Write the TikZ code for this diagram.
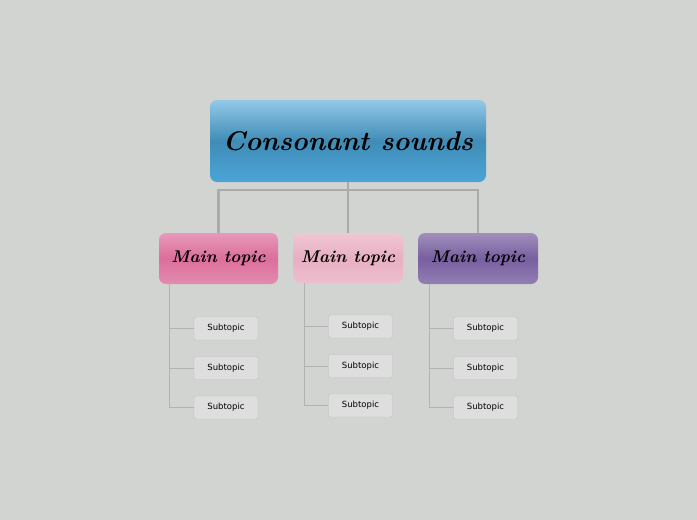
\documentclass[tikz,border=0pt]{standalone}
\usepackage{fontspec}
\setsansfont{DejaVu Sans}
\begin{document}
\begin{tikzpicture}[x=1pt,y=-1pt,
  root/.style={rounded corners=7pt,top color=#1!60!white,bottom color=#1,middle color=#1!85!black,draw=none,text=black,font=\itshape\bfseries\fontsize{27}{30}\selectfont},
  mainbox/.style={rounded corners=7pt,top color=#1!70!white,bottom color=#1!80!white,middle color=#1,draw=none,font=\itshape\bfseries\fontsize{17}{20}\selectfont},
  subbox/.style={draw=black!25,fill=black!13,rounded corners=2pt,minimum width=64pt,minimum height=23pt,font=\sffamily\fontsize{8.5}{10}\selectfont,inner sep=0pt},
  conn/.style={draw=black!33,line width=2.5pt},
  sconn/.style={draw=black!30,line width=0.8pt}]
\fill[fill={rgb,255:red,210;green,212;blue,209}] (0,0) rectangle (697,520);
\useasboundingbox (0,0) rectangle (697,520);
\definecolor{bl}{RGB}{75,165,215}
\definecolor{pk}{RGB}{220,110,155}
\definecolor{lp}{RGB}{232,175,195}
\definecolor{pu}{RGB}{120,95,160}
\node[root=bl,minimum width=276pt,minimum height=82pt] (r) at (348,141) {Consonant sounds};
\node[mainbox=pk,minimum width=119pt,minimum height=51pt] (m1) at (218.5,258.5) {Main topic};
\node[mainbox=lp,minimum width=110pt,minimum height=50pt] (m2) at (348,258) {Main topic};
\node[mainbox=pu,minimum width=120pt,minimum height=51pt] (m3) at (478,258.5) {Main topic};
\coordinate (j) at (348,190);
\draw[conn] (r.south) -- (j);
\draw[conn] (m1.north) |- (j) -| (m3.north);
\draw[conn] (j) -- (m2.north);
\foreach \c/\m/\lx/\bx/\ya/\yb/\yc in {1/m1/169/226/328.5/368/407.5, 2/m2/304/360.5/326.5/366/405.5, 3/m3/429/485.5/328.5/368/407.5}{
  \node[subbox] (s\c a) at (\bx,\ya) {Subtopic};
  \node[subbox] (s\c b) at (\bx,\yb) {Subtopic};
  \node[subbox] (s\c c) at (\bx,\yc) {Subtopic};
  \draw[sconn] (\lx,0 |- \m.south) -- (\lx,\yc) -- (s\c c.west);
  \draw[sconn] (\lx,\ya) -- (s\c a.west);
  \draw[sconn] (\lx,\yb) -- (s\c b.west);
}
\end{tikzpicture}
\end{document}
